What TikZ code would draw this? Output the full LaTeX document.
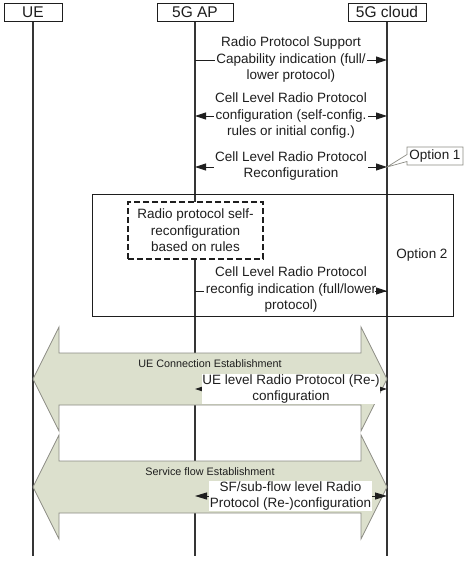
\documentclass[tikz,border=0pt]{standalone}
\usepackage{fontspec}
\setmainfont{Liberation Sans}
\usetikzlibrary{arrows.meta,shapes.callouts}
\definecolor{bigfill}{HTML}{DCE0CD}
\definecolor{bigline}{HTML}{8C8C84}
\definecolor{ink}{HTML}{1E1E1E}
\begin{document}
\begin{tikzpicture}[x=1pt,y=-1pt,
  hdr/.style={draw=ink, line width=1pt, fill=white, minimum width=#1, minimum height=18pt, inner sep=0pt, text=ink, font=\fontsize{15.5}{18}\selectfont},
  life/.style={draw=ink!90, line width=1.2pt},
  tipA/.style={-{Triangle[length=11pt,width=7pt]}},
  msg/.style={draw=ink, line width=0.9pt},
  lbl/.style={fill=white, align=center, inner sep=1.5pt, text=ink, font=\fontsize{13.5}{16.5}\selectfont},
  small/.style={text=ink, font=\fontsize{10.8}{13}\selectfont, inner sep=0pt},
  bigarrow/.style={fill=bigfill, draw=bigline, line width=0.8pt, line join=miter}]
\useasboundingbox (0,0) rectangle (474,562);

% headers
\node[hdr=58pt] (ue) at (33,12) {UE};
\node[hdr=76pt] (ap) at (195,12) {5G AP};
\node[hdr=78pt] (cl) at (387,12) {5G cloud};
\coordinate (ueb) at (33,556);
\coordinate (apb) at (195,556);
\coordinate (clb) at (387,556);
\draw[life] (ue.south) -- (ueb);
\draw[life] (ap.south) -- (apb);
\draw[life] (cl.south) -- (clb);

% message 1
\coordinate (ap1) at (195,60); \coordinate (cl1) at (387,60);
\draw[msg,tipA] (ap1) -- (cl1);
\node[lbl] (m1) at (291,60) {Radio Protocol Support\\Capability indication (full/\\lower protocol)};

% message 2
\coordinate (ap2) at (195,116); \coordinate (cl2) at (387,116);
\draw[msg,{Triangle[length=11pt,width=7pt]}-{Triangle[length=11pt,width=7pt]}] (ap2) -- (cl2);
\node[lbl] (m2) at (291,116) {Cell Level Radio Protocol\\configuration (self-config.\\rules or initial config.)};

% message 3
\coordinate (ap3) at (195,167); \coordinate (cl3) at (387,167);
\draw[msg,{Triangle[length=11pt,width=7pt]}-{Triangle[length=11pt,width=7pt]}] (ap3) -- (cl3);
\node[lbl] (m3) at (291,166) {Cell Level Radio Protocol\\Reconfiguration};

% option 1 callout
\node[rectangle callout, draw=bigline, line width=0.7pt, fill=white, minimum width=56pt, minimum height=18pt, inner sep=0pt,
  callout absolute pointer={(cl3)}, callout pointer width=7pt, text=ink, font=\fontsize{13.5}{16}\selectfont] (o1) at (435,156) {Option 1};

% option 2 box
\node[draw=ink, line width=1pt, minimum width=361pt, minimum height=122pt, inner sep=0pt] (o2box) at (272.5,255) {};
\node[text=ink, font=\fontsize{13.5}{16}\selectfont] (o2) at (422,255) {Option 2};

% self-reconfiguration box
\node[draw=ink, line width=1.2pt, dash pattern=on 6pt off 3pt, fill=white, minimum width=135pt, minimum height=57pt,
  align=center, inner sep=0pt, text=ink, font=\fontsize{13.5}{16.5}\selectfont] (self) at (195.5,230.5)
  {Radio protocol self-\\reconfiguration\\based on rules};

% message 4
\coordinate (ap4) at (195,291); \coordinate (cl4) at (387,291); \coordinate (cl4t) at (375,291);
\draw[msg] (ap4) -- (cl4);
\node[lbl] (m4) at (291,290) {Cell Level Radio Protocol\\reconfig indication (full/lower\\protocol)};
\draw[msg,tipA] (cl4t) -- (cl4);

% big arrows
\draw[bigarrow] (33,379) -- (59,327) -- (59,353) -- (361,353) -- (361,327) -- (387,379)
  -- (361,431) -- (361,405) -- (59,405) -- (59,431) -- cycle;
\node[small] (uece) at (210,364) {UE Connection Establishment};
\coordinate (ap5) at (195,389); \coordinate (cl5) at (387,389);
\draw[msg,{Triangle[length=8pt,width=5pt]}-{Triangle[length=8pt,width=5pt]}] (ap5) -- (cl5);
\node[lbl, inner sep=0.5pt] (m5) at (291,389) {UE level Radio Protocol (Re-)\\configuration};

\draw[bigarrow] (33,487) -- (59,435) -- (59,461) -- (361,461) -- (361,435) -- (387,487)
  -- (361,539) -- (361,513) -- (59,513) -- (59,539) -- cycle;
\node[small] (sfe) at (210,472) {Service flow Establishment};
\coordinate (ap6) at (195,496); \coordinate (cl6) at (387,496);
\draw[msg,{Triangle[length=12pt,width=7pt]}-{Triangle[length=12pt,width=7pt]}] (ap6) -- (cl6);
\node[lbl, inner sep=0.5pt] (m6) at (290.5,496) {SF/sub-flow level Radio\\Protocol (Re-)configuration};
\end{tikzpicture}
\end{document}
